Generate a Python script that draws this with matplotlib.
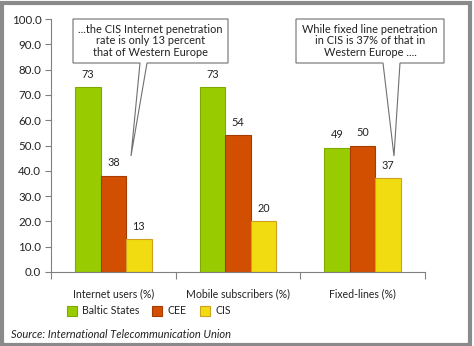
import matplotlib
matplotlib.use("Agg")
import matplotlib.pyplot as plt
from matplotlib.patches import Rectangle, Polygon
import numpy as np

categories = ["Internet users (%)", "Mobile subscribers (%)", "Fixed-lines (%)"]
series_names = ["Baltic States", "CEE", "CIS"]
baltic = [73, 73, 49]
cee = [38, 54, 50]
cis = [13, 20, 37]
yticks = [0, 10, 20, 30, 40, 50, 60, 70, 80, 90, 100]
note1 = "...the CIS Internet penetration\nrate is only 13 percent\nthat of Western Europe"
note2 = "While fixed line penetration\nin CIS is 37% of that in\nWestern Europe ...."
source = "Source: International Telecommunication Union"

colors = ["#99CC00", "#D24E00", "#F0DC10"]
edges = ["#7FA800", "#A83C00", "#D0A020"]
plt.rcParams['font.family'] = ['Lato', 'DejaVu Sans']

fig = plt.figure(figsize=(4.74, 3.46), dpi=100)
W, H = 474, 346
ax = fig.add_axes([51 / W, 1 - 272 / H, (425 - 51) / W, (272 - 19) / H])

x = np.arange(len(categories))
bw = 0.205
for i, vals in enumerate([baltic, cee, cis]):
    pos = x + (i - 1) * bw
    ax.bar(pos, vals, bw, color=colors[i], edgecolor=edges[i], linewidth=0.8,
           label=series_names[i], zorder=2)
    for p, v in zip(pos, vals):
        ax.text(p, v + 3, f"{v}", ha="center", va="bottom", fontsize=7.8, color="#222222")

ax.set_xlim(-0.5, 2.5)
ax.set_ylim(0, 100)
ax.set_yticks(yticks)
ax.set_yticklabels([f"{v:.1f}" for v in yticks], fontsize=8.3, color="#222222")
ax.set_xticks([-0.5, 0.5, 1.5, 2.5])
ax.set_xticklabels([])
ax.set_xticks(x, minor=True)
ax.set_xticklabels(categories, minor=True, fontsize=7.6, color="#222222")
ax.tick_params(axis="x", which="minor", length=0, pad=12)
ax.tick_params(axis="x", which="major", length=5, color="#808080", width=0.8)
ax.tick_params(axis="y", length=4, color="#808080", width=0.8, pad=3)
for s in ["top", "right"]:
    ax.spines[s].set_visible(False)
for s in ["left", "bottom"]:
    ax.spines[s].set_color("#808080")
    ax.spines[s].set_linewidth(0.8)

def callout(x0, x1, y0, y1, b0, b1, tip, text):
    pts = [(x0, y0), (x1, y0), (x1, y1), (b1, y1), tip, (b0, y1), (x0, y1)]
    poly = Polygon([(px / W, 1 - py / H) for px, py in pts], closed=True,
                   facecolor="white", edgecolor="#707070", linewidth=0.8,
                   transform=fig.transFigure, zorder=5)
    fig.patches.append(poly)
    fig.text((x0 + x1) / 2 / W, 1 - (y0 + y1) / 2 / H, text, ha="center", va="center",
             fontsize=7.9, color="#222222", linespacing=1.1, zorder=6)

callout(73, 228, 19, 63, 140, 147, (131, 156), note1)
callout(296, 444, 19, 63, 383, 400, (394, 156), note2)

leg_y = 311
items = [(67, "Baltic States"), (152, "CEE"), (200, "CIS")]
for (lx, name), c, e in zip(items, colors, edges):
    fig.patches.append(Rectangle((lx / W, 1 - (leg_y + 5) / H), 10 / W, 10 / H,
                                 facecolor=c, edgecolor=e, linewidth=0.8,
                                 transform=fig.transFigure))
    fig.text((lx + 15) / W, 1 - leg_y / H, name, ha="left", va="center",
             fontsize=7.6, color="#222222")

fig.text(11 / W, 1 - 334 / H, source, ha="left", va="center", fontsize=8,
         style="italic", color="#222222")

fig.patches.append(Rectangle((1.5 / W, 1.5 / H), (W - 6) / W, (H - 4) / H, fill=False,
                             edgecolor="#8a8a8a", linewidth=3, transform=fig.transFigure))

fig.savefig("out.png", dpi=100)
